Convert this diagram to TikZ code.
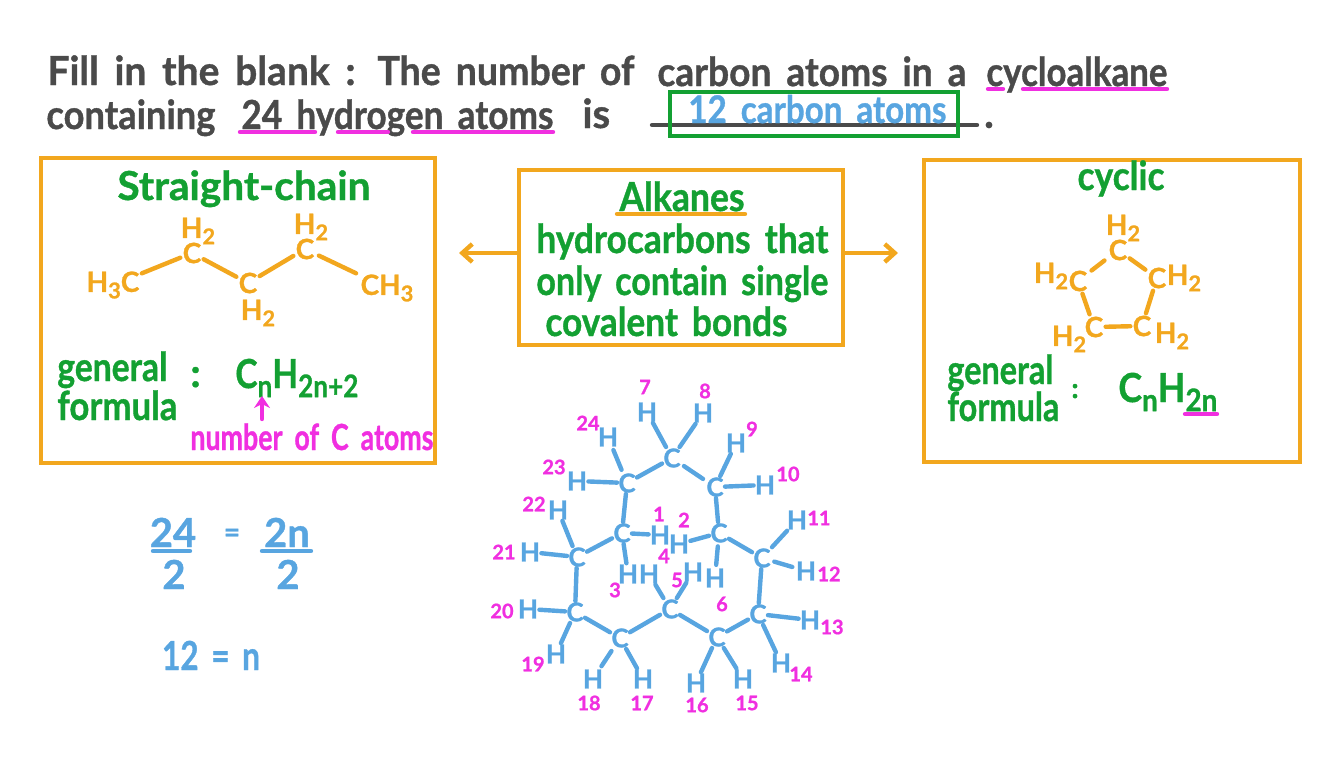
\documentclass[tikz,border=0pt]{standalone}
\usepackage{fontspec}
\usepackage{graphicx}
\setmainfont{Lato}[BoldFeatures={FakeBold=1}]
\usetikzlibrary{arrows.meta,positioning}
\definecolor{inkdark}{HTML}{4A4A4A}
\definecolor{inkorange}{HTML}{F2A71E}
\definecolor{inkgreen}{HTML}{13A032}
\definecolor{inkblue}{HTML}{58A5E0}
\definecolor{inkpink}{HTML}{F02FE0}
\newcommand{\fitw}[2]{\resizebox{#1pt}{\height}{\spaceskip=8pt #2}}
\newcommand{\lowsub}[1]{\raisebox{-.45ex}{\scalebox{.78}{#1}}}
\tikzset
{
    wordtext/.style = {inner sep=0pt, anchor=base west, font=\bfseries\fontsize{20}{24}\selectfont},
    boxed/.style = {draw=inkorange, line width=2pt, inner sep=0pt},
    bond/.style = {line width=2.2pt, line cap=round, shorten >=1.2pt, shorten <=1.2pt},
    atomC/.style = {inkblue, inner sep=0.5pt, font=\bfseries\fontsize{13}{15}\selectfont},
    atomH/.style = {inkblue, inner sep=0.5pt, font=\bfseries\fontsize{13}{15}\selectfont},
    numlabel/.style = {inkpink, inner sep=0pt, font=\bfseries\fontsize{10}{12}\selectfont},
    orangeatom/.style = {inkorange, inner sep=1pt, font=\bfseries\fontsize{14}{16}\selectfont},
    markline/.style = {line width=2.2pt, line cap=round}
}
\begin{document}
\begin{tikzpicture}[x=0.5pt,y=-0.5pt,>={Straight Barb[length=5pt,width=9pt]}]
\useasboundingbox (0,0) rectangle (1344,756);

% question
\node [wordtext, inkdark] (qa) at (47,85) {\fitw{154}{Fill in the blank :}};
\node [wordtext, inkdark] (qb) at (377,85) {\fitw{128.5}{The number of}};
\node [wordtext, inkdark] (qc) at (657,86) {\fitw{154.5}{carbon atoms in a}};
\node [wordtext, inkdark] (qd) at (986,86) {\fitw{90.5}{cycloalkane}};
\node [wordtext, inkdark] (qe) at (46,129) {\fitw{84.5}{containing}};
\node [wordtext, inkdark] (qf) at (241,129) {\fitw{156}{24 hydrogen atoms}};
\node [wordtext, inkdark] (qg) at (582,128) {is};
\draw [markline, inkpink] (240,132) -- (315,132) (338,132) -- (388,132) (413,132) -- (553,132);
\draw [markline, inkpink] (988,89) -- (1003,89) (1023,89) -- (1167,89);
\draw [markline, inkdark] (652,125) -- (977,125);
\node [circle, fill=inkdark, inner sep=1.2pt] (qdot) at (989,125) {};
\node [wordtext, inkblue, font=\bfseries\fontsize{19}{23}\selectfont] (answer) at (688,123) {\fitw{129}{12 carbon atoms}};
\node [draw=inkgreen, line width=2pt, minimum width=144pt, minimum height=22pt, inner sep=0pt] (answerbox) at (814,113.5) {};

% boxes
\node [boxed, minimum width=197pt, minimum height=152.5pt] (chainbox) at (238,310.5) {};
\node [boxed, minimum width=162pt, minimum height=87.5pt] (alkanebox) at (681,257.5) {};
\node [boxed, minimum width=188pt, minimum height=151pt] (cyclebox) at (1112,311) {};
\coordinate (chainend) at (459,253);
\coordinate (cycleend) at (898,253);
\draw [->, bond, inkorange, shorten >=0pt, shorten <=0pt] (alkanebox.west |- chainend) -- (chainend);
\draw [->, bond, inkorange, shorten >=0pt, shorten <=0pt] (alkanebox.east |- cycleend) -- (cycleend);

% centre box
\node [wordtext, inkgreen, anchor=base] (alkanes) at (682,211) {\fitw{62.5}{Alkanes}};
\draw [markline, inkorange] (617,214) -- (745,214);
\node [wordtext, inkgreen] (dfa) at (536,253) {\fitw{146}{hydrocarbons that}};
\node [wordtext, inkgreen] (dfb) at (536,295) {\fitw{146}{only contain single}};
\node [wordtext, inkgreen] (dfc) at (545,336) {\fitw{121}{covalent bonds}};

% straight chain
\node [wordtext, inkgreen, anchor=base] (chaintitle) at (244,200) {\fitw{126.5}{Straight-chain}};
\node [orangeatom] (cha) at (113,285) {H\lowsub{3}C};
\node [orangeatom] (chb) at (192,253) {C};
\node [orangeatom] (chbh) at (198,231) {H\lowsub{2}};
\node [orangeatom] (chc) at (248,283) {C};
\node [orangeatom] (chch) at (258,313) {H\lowsub{2}};
\node [orangeatom] (chd) at (305,249) {C};
\node [orangeatom] (chdh) at (311,227) {H\lowsub{2}};
\node [orangeatom] (che) at (387,288) {CH\lowsub{3}};
\draw [bond, inkorange] (cha) -- (chb) -- (chc) -- (chd) -- (che);
\node [wordtext, inkgreen] (chgen) at (57,381) {\fitw{55}{general}};
\node [wordtext, inkgreen] (chform) at (57,420) {\fitw{60}{formula}};
\node [wordtext, inkgreen] (chcolon) at (190,387) {:};
\node [wordtext, inkgreen] (chformula) at (235,388) {\fitw{61.5}{C\lowsub{n}H\lowsub{2n+2}}};
\node [wordtext, inkpink, font=\bfseries\fontsize{18}{21}\selectfont] (chnote) at (190,450) {\fitw{121.5}{number of C atoms}};
\coordinate (chtip) at (262,396);
\coordinate (chtail) at (262,419);
\draw [->, bond, inkpink, shorten >=0pt, shorten <=0pt, >={Stealth[length=6pt,width=8pt]}] (chtail) -- (chtip);

% cyclic
\node [wordtext, inkgreen, anchor=base] (cyctitle) at (1121,190) {\fitw{43.5}{cyclic}};
\node [orangeatom] (cya) at (1118,250) {C};
\node [orangeatom] (cyah) at (1123,228) {H\lowsub{2}};
\node [orangeatom] (cyb) at (1157,278) {C};
\node [orangeatom] (cybh) at (1184,278) {H\lowsub{2}};
\node [orangeatom] (cyc) at (1142,326) {C};
\node [orangeatom] (cych) at (1172,336) {H\lowsub{2}};
\node [orangeatom] (cyd) at (1094,327) {C};
\node [orangeatom] (cydh) at (1069,339) {H\lowsub{2}};
\node [orangeatom] (cye) at (1078,281) {C};
\node [orangeatom] (cyeh) at (1051,276) {H\lowsub{2}};
\draw [bond, inkorange] (cya) -- (cyb) -- (cyc) -- (cyd) -- (cye) -- (cya);
\node [wordtext, inkgreen] (cygen) at (947,384) {\fitw{53}{general}};
\node [wordtext, inkgreen] (cyform) at (947,421) {\fitw{56}{formula}};
\node [wordtext, inkgreen, font=\bfseries\fontsize{14}{16}\selectfont] (cycolon) at (1071,398) {:};
\node [wordtext, inkgreen] (cyformula) at (1118,402) {\fitw{49.5}{C\lowsub{n}H\lowsub{2n}}};
\draw [markline, inkpink] (1185,414) -- (1217,414);

% working
\node [wordtext, inkblue, anchor=base] (fra) at (173,547) {24};
\node [wordtext, inkblue, anchor=base] (frb) at (174,589) {2};
\node [wordtext, inkblue, anchor=base, font=\bfseries\fontsize{14}{16}\selectfont] (freq) at (232,542) {=};
\node [wordtext, inkblue, anchor=base] (frc) at (287,547) {2n};
\node [wordtext, inkblue, anchor=base] (frd) at (288,589) {2};
\draw [markline, inkblue] (153,551) -- (190,551) (262,551) -- (311,551);
\node [wordtext, inkblue, anchor=base] (res) at (211,670) {\fitw{49}{12 = n}};

% big ring: carbons
\node [atomC] (ca) at (672,458) {C};
\node [atomC] (cb) at (627,483) {C};
\node [atomC] (cc) at (715,487) {C};
\node [atomC] (cd) at (622,533) {C};
\node [atomC] (ce) at (719,533) {C};
\node [atomC] (cf) at (577,557) {C};
\node [atomC] (cg) at (762,558) {C};
\node [atomC] (ch) at (575,612) {C};
\node [atomC] (ci) at (670,609) {C};
\node [atomC] (cj) at (758,614) {C};
\node [atomC] (ck) at (620,638) {C};
\node [atomC] (cl) at (717,637) {C};
% big ring: hydrogens
\node [atomH] (h1) at (660,535) {H};
\node [atomH] (h2) at (679,544) {H};
\node [atomH] (h3) at (628,574) {H};
\node [atomH] (h4) at (649,574) {H};
\node [atomH] (h5) at (693,572) {H};
\node [atomH] (h6) at (715,578) {H};
\node [atomH] (h7) at (647,412) {H};
\node [atomH] (h8) at (703,413) {H};
\node [atomH] (h9) at (736,443) {H};
\node [atomH] (h10) at (765,485) {H};
\node [atomH] (h11) at (797,520) {H};
\node [atomH] (h12) at (806,571) {H};
\node [atomH] (h13) at (810,620) {H};
\node [atomH] (h14) at (781,663) {H};
\node [atomH] (h15) at (743,679) {H};
\node [atomH] (h16) at (696,683) {H};
\node [atomH] (h17) at (643,679) {H};
\node [atomH] (h18) at (593,679) {H};
\node [atomH] (h19) at (556,654) {H};
\node [atomH] (h20) at (528,609) {H};
\node [atomH] (h21) at (530,552) {H};
\node [atomH] (h22) at (558,510) {H};
\node [atomH] (h23) at (577,481) {H};
\node [atomH] (h24) at (608,437) {H};
% big ring: numbers
\node [numlabel] (n1) at (659,514) {1};
\node [numlabel] (n2) at (684,520) {2};
\node [numlabel] (n3) at (615,590) {3};
\node [numlabel] (n4) at (664,556) {4};
\node [numlabel] (n5) at (677,580) {5};
\node [numlabel] (n6) at (722,604) {6};
\node [numlabel] (n7) at (645,387) {7};
\node [numlabel] (n8) at (705,391) {8};
\node [numlabel] (n9) at (752,429) {9};
\node [numlabel] (n10) at (788,474) {10};
\node [numlabel] (n11) at (819,518) {11};
\node [numlabel] (n12) at (829,574) {12};
\node [numlabel] (n13) at (832,627) {13};
\node [numlabel] (n14) at (801,674) {14};
\node [numlabel] (n15) at (747,703) {15};
\node [numlabel] (n16) at (697,705) {16};
\node [numlabel] (n17) at (642,703) {17};
\node [numlabel] (n18) at (589,703) {18};
\node [numlabel] (n19) at (533,664) {19};
\node [numlabel] (n20) at (502,611) {20};
\node [numlabel] (n21) at (504,552) {21};
\node [numlabel] (n22) at (534,504) {22};
\node [numlabel] (n23) at (554,467) {23};
\node [numlabel] (n24) at (588,423) {24};
% big ring: bonds
\draw [bond, inkblue] (ca) -- (cb) (cb) -- (cd) (cd) -- (cf) (cf) -- (ch) (ch) -- (ck) (ck) -- (ci) (ci) -- (cl) (cl) -- (cj) (cj) -- (cg) (cg) -- (ce) (ce) -- (cc) (cc) -- (ca);
\draw [bond, inkblue] (cd) -- (h1) (ce) -- (h2) (cd) -- (h3) (ci) -- (h4) (ci) -- (h5) (ce) -- (h6);
\draw [bond, inkblue] (ca) -- (h7) (ca) -- (h8) (cc) -- (h9) (cc) -- (h10) (cg) -- (h11) (cg) -- (h12);
\draw [bond, inkblue] (cj) -- (h13) (cj) -- (h14) (cl) -- (h15) (cl) -- (h16) (ck) -- (h17) (ck) -- (h18);
\draw [bond, inkblue] (ch) -- (h19) (ch) -- (h20) (cf) -- (h21) (cf) -- (h22) (cb) -- (h23) (cb) -- (h24);
\end{tikzpicture}
\end{document}
